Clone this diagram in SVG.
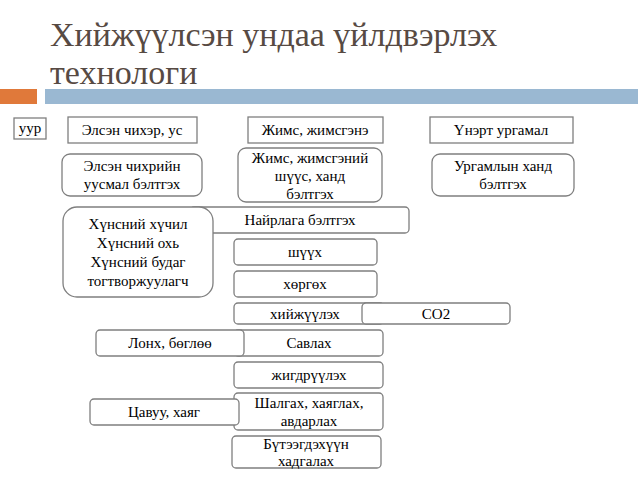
<svg xmlns="http://www.w3.org/2000/svg" width="638" height="479" viewBox="0 0 638 479">
<style>
.b{fill:#fff;stroke:#7f7f7f;stroke-width:1.3}
text{font-family:"Liberation Serif","DejaVu Serif",serif;font-size:15px;fill:#000;text-anchor:middle}
.t{font-size:34px;fill:#574a43;text-anchor:start}
</style>
<rect width="638" height="479" fill="#fff"/>
<text class="t" x="50" y="46">Хийжүүлсэн ундаа үйлдвэрлэх</text>
<text class="t" x="50" y="84">технологи</text>
<rect x="0" y="89" width="37" height="15" fill="#e0793a"/>
<rect x="45" y="89" width="593" height="15" fill="#9ab8d2"/>
<g id="n-uur"><rect class="b" x="14" y="118" width="32" height="21"/><text x="30" y="133">уур</text></g>
<g id="n-chikher"><rect class="b" x="68" y="117" width="129" height="26"/><text x="132" y="135">Элсэн чихэр, ус</text></g>
<g id="n-jims"><rect class="b" x="248" y="117" width="135" height="26"/><text x="315" y="135">Жимс, жимсгэнэ</text></g>
<g id="n-unert"><rect class="b" x="430" y="117" width="143" height="26"/><text x="501" y="135">Үнэрт ургамал</text></g>
<g id="n-uusmal"><rect class="b" x="62" y="154" width="140" height="42" rx="8"/><text x="132" y="171">Элсэн чихрийн</text><text x="132" y="189">уусмал бэлтгэх</text></g>
<g id="n-shuus"><rect class="b" x="238" y="148" width="144" height="54" rx="8"/><text x="310" y="163">Жимс, жимсгэний</text><text x="310" y="181">шүүс, ханд</text><text x="310" y="199">бэлтгэх</text></g>
<g id="n-hand"><rect class="b" x="432" y="154" width="142" height="42" rx="8"/><text x="503" y="171">Ургамлын ханд</text><text x="503" y="189">бэлтгэх</text></g>
<g id="n-nairlaga"><rect class="b" x="190" y="207" width="219" height="26" rx="4"/><text x="300" y="225">Найрлага бэлтгэх</text></g>
<g id="n-hunsni"><rect class="b" x="63" y="207" width="150" height="90" rx="14"/><text x="138" y="229">Хүнсний хүчил</text><text x="138" y="248">Хүнсний охь</text><text x="138" y="267">Хүнсний будаг</text><text x="138" y="286">тогтворжуулагч</text></g>
<g id="n-shuuh"><rect class="b" x="234" y="239" width="143" height="26" rx="4"/><text x="305" y="257">шүүх</text></g>
<g id="n-hurguh"><rect class="b" x="234" y="271" width="143" height="26" rx="4"/><text x="305" y="289">хөргөх</text></g>
<g id="n-hiij"><rect class="b" x="234" y="303" width="150" height="21" rx="4"/><text x="305" y="319">хийжүүлэх</text></g>
<g id="n-co2"><rect class="b" x="362" y="303" width="148" height="21" rx="4"/><text x="436" y="319">CO2</text></g>
<g id="n-savlah"><rect class="b" x="234" y="330" width="149" height="26" rx="4"/><text x="309" y="348">Савлах</text></g>
<g id="n-lonh"><rect class="b" x="96" y="330" width="148" height="26" rx="4"/><text x="170" y="348">Лонх, бөглөө</text></g>
<g id="n-jigd"><rect class="b" x="234" y="362" width="149" height="26" rx="4"/><text x="309" y="380">жигдрүүлэх</text></g>
<g id="n-shalgah"><rect class="b" x="234" y="393" width="149" height="37" rx="4"/><text x="309" y="408">Шалгах, хаяглах,</text><text x="309" y="426">авдарлах</text></g>
<g id="n-tsavuu"><rect class="b" x="90" y="399" width="149" height="26" rx="4"/><text x="164" y="417">Цавуу, хаяг</text></g>
<g id="n-hadgalah"><rect class="b" x="232" y="436" width="149" height="32" rx="4"/><text x="306" y="449">Бүтээгдэхүүн</text><text x="306" y="466">хадгалах</text></g>
<g id="connectors"></g>
</svg>
